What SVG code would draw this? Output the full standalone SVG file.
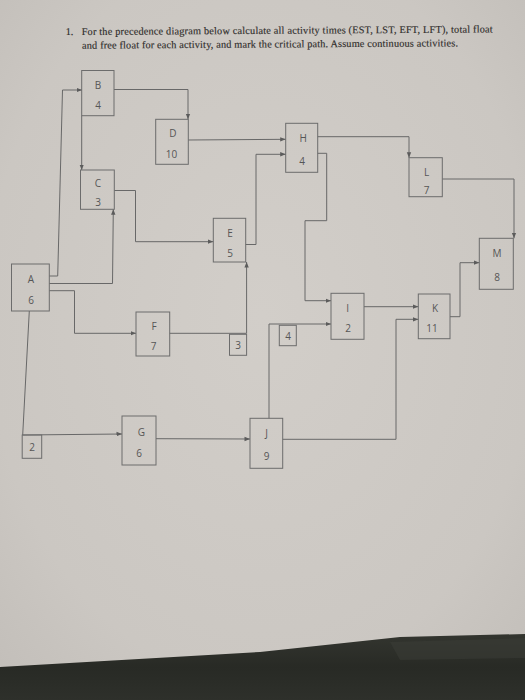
<svg xmlns="http://www.w3.org/2000/svg" width="525" height="700" viewBox="0 0 525 700">
<defs>
<radialGradient id="paper" cx="0.5" cy="0.45" r="0.75">
<stop offset="0" stop-color="#d2cec9"/>
<stop offset="0.7" stop-color="#cbc7c2"/>
<stop offset="1" stop-color="#c1bdb8"/>
</radialGradient>
<linearGradient id="desk" x1="0" y1="0" x2="0" y2="1">
<stop offset="0" stop-color="#33352f"/>
<stop offset="0.5" stop-color="#282a25"/>
<stop offset="1" stop-color="#2e302b"/>
</linearGradient>
<marker id="ah" viewBox="0 0 10 10" refX="10" refY="5" markerWidth="5.5" markerHeight="5.5" orient="auto" markerUnits="userSpaceOnUse">
<path d="M0,1 L10,5 L0,9 Z" fill="#5c5c5c"/>
</marker>
<style>
.box{fill:none;stroke:#6c6c6c;stroke-width:1}
.lag{fill:none;stroke:#6c6c6c;stroke-width:1}
.c{fill:none;stroke:#686868;stroke-width:1}
.t{font-family:"Open Sans","Liberation Sans",sans-serif;font-size:10px;fill:#565656;text-anchor:middle;dominant-baseline:central}
.title{font-family:"Liberation Serif","Times New Roman",serif;font-size:10.3px;fill:#302e2c;stroke:#302e2c;stroke-width:0.15}
</style>
</defs>
<rect x="0" y="0" width="525" height="700" fill="url(#paper)"/>
<path d="M0,667 L260,652 L400,637 L525,634 L525,700 L0,700 Z" fill="url(#desk)"/>
<path d="M390,642 L525,638 L525,658 L400,660 Z" fill="#3b3d37" opacity="0.5"/>

<g id="title" transform="rotate(-0.35 82 35)">
<text class="title" x="65.7" y="35">1.</text>
<text class="title" x="81.7" y="35" textLength="411" lengthAdjust="spacing">For the precedence diagram below calculate all activity times (EST, LST, EFT, LFT), total float</text>
<text class="title" x="82" y="48.7" textLength="376" lengthAdjust="spacing">and free float for each activity, and mark the critical path. Assume continuous activities.</text>
</g>

<g id="connectors">
<polyline class="c" points="49.3,276 57.7,276 62.5,90 82,90" marker-end="url(#ah)"/>
<polyline class="c" points="114,89.5 188,89.5 188,119.3" marker-end="url(#ah)"/>
<polyline class="c" points="81.7,115.7 81.7,170" marker-end="url(#ah)"/>
<polyline class="c" points="49.3,283.5 112.5,283.5 113.3,209.3" marker-end="url(#ah)"/>
<polyline class="c" points="114.3,190.5 135.5,190.5 135.5,241.7 213.3,241.7" marker-end="url(#ah)"/>
<polyline class="c" points="188.3,140 285.7,139.3" marker-end="url(#ah)"/>
<polyline class="c" points="245.7,244.5 256,244.5 256,154.3 285.7,154.3" marker-end="url(#ah)"/>
<polyline class="c" points="317.7,136.7 409,136.7 409,157.7" marker-end="url(#ah)"/>
<polyline class="c" points="317.7,153.3 326.7,153.3 326.7,220.7 305,220.7 305,300.7 331,300.7" marker-end="url(#ah)"/>
<polyline class="c" points="442.3,179 514,179 514,238.3" marker-end="url(#ah)"/>
<polyline class="c" points="49.3,290.7 74.5,290.7 74.5,333.3 136,333.3" marker-end="url(#ah)"/>
<polyline class="c" points="169.7,333.3 246.6,333.3 246.6,262" marker-end="url(#ah)"/>
<polyline class="c" points="29.3,311 22.7,435 122,434" marker-end="url(#ah)"/>
<polyline class="c" points="156,438.7 250,439" marker-end="url(#ah)"/>
<polyline class="c" points="269,418.3 269,324 331,324" marker-end="url(#ah)"/>
<polyline class="c" points="282.7,439.3 396,439.3 396,319.3 418.3,319.3" marker-end="url(#ah)"/>
<polyline class="c" points="364,306.7 418.3,306.7" marker-end="url(#ah)"/>
<polyline class="c" points="450,316.7 460,316.7 460,262.7 479.3,262.7" marker-end="url(#ah)"/>
</g>

<g id="lag2"><rect class="lag" x="22.2" y="435" width="19.5" height="23.3"/><text class="t" x="32" y="446.7">2</text></g>
<g id="lag3"><rect class="lag" x="229.5" y="334.3" width="17.1" height="21"/><text class="t" x="238" y="345">3</text></g>
<g id="lag4"><rect class="lag" x="279.3" y="325.3" width="17" height="20.4"/><text class="t" x="288" y="335.5">4</text></g>

<g id="A"><rect class="box" x="11.5" y="264" width="37.8" height="47"/><text class="t" x="31" y="279">A</text><text class="t" x="31" y="300">6</text></g>
<g id="B"><rect class="box" x="81.7" y="70.5" width="32.3" height="45.2"/><text class="t" x="98" y="85">B</text><text class="t" x="98" y="105.3">4</text></g>
<g id="C"><rect class="box" x="80.5" y="170" width="33.8" height="39.3"/><text class="t" x="98" y="183">C</text><text class="t" x="98" y="202">3</text></g>
<g id="D"><rect class="box" x="155.7" y="119.3" width="32.6" height="45"/><text class="t" x="173" y="133">D</text><text class="t" x="171.5" y="154">10</text></g>
<g id="E"><rect class="box" x="213.3" y="218.3" width="32.4" height="43.7"/><text class="t" x="230" y="232.5">E</text><text class="t" x="230" y="252.7">5</text></g>
<g id="F"><rect class="box" x="136" y="312" width="33.7" height="44"/><text class="t" x="154" y="326">F</text><text class="t" x="153.5" y="346">7</text></g>
<g id="G"><rect class="box" x="122" y="416" width="34" height="49"/><text class="t" x="141.5" y="431.7">G</text><text class="t" x="139" y="453">6</text></g>
<g id="H"><rect class="box" x="285.7" y="123.3" width="32" height="49"/><text class="t" x="303.3" y="137.7">H</text><text class="t" x="302" y="161">4</text></g>
<g id="I"><rect class="box" x="331" y="293.3" width="33" height="46"/><text class="t" x="347.7" y="307.7">I</text><text class="t" x="348" y="328">2</text></g>
<g id="J"><rect class="box" x="250" y="418.3" width="32.7" height="50"/><text class="t" x="266.5" y="433">J</text><text class="t" x="266.5" y="456">9</text></g>
<g id="K"><rect class="box" x="418.3" y="294" width="31.7" height="44.7"/><text class="t" x="435" y="307.7">K</text><text class="t" x="432" y="328">11</text></g>
<g id="L"><rect class="box" x="409" y="157.7" width="33.3" height="39"/><text class="t" x="426.7" y="171.7">L</text><text class="t" x="426.7" y="190">7</text></g>
<g id="M"><rect class="box" x="479.3" y="238.3" width="34" height="51"/><text class="t" x="497" y="253.3">M</text><text class="t" x="497" y="276.7">8</text></g>
</svg>
